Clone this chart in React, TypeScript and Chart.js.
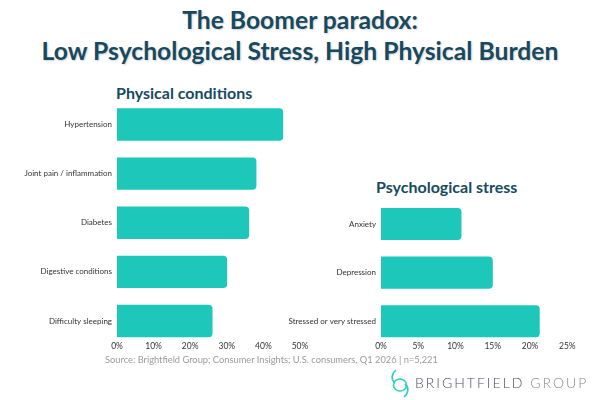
import React, { useEffect, useRef } from "react";
import { Chart, registerables } from "chart.js";

Chart.register(...registerables);

const physicalLabels = [
  "Hypertension",
  "Joint pain / inflammation",
  "Diabetes",
  "Digestive conditions",
  "Difficulty sleeping",
];
const physicalValues = [45.4, 38.1, 36.1, 30.1, 26.1];
const physicalTicks = [0, 10, 20, 30, 40, 50];

const stressLabels = ["Anxiety", "Depression", "Stressed or very stressed"];
const stressValues = [10.8, 15.0, 21.3];
const stressTicks = [0, 5, 10, 15, 20, 25];

const BAR = "#1dc7b9";
const FONT = "Lato, 'Open Sans', sans-serif";

const liftXLabels = {
  id: "liftXLabels",
  afterLayout(chart: any) {
    const s = chart.scales.x;
    s.top -= 4;
    s.bottom -= 4;
  },
};

function makeConfig(
  labels: string[],
  values: number[],
  max: number,
  step: number,
  yWidth: number,
  pad: { top: number; right: number }
): any {
  return {
    type: "bar",
    data: {
      labels,
      datasets: [
        {
          data: values,
          backgroundColor: BAR,
          borderRadius: 4,
          borderSkipped: "start",
          barPercentage: 0.66,
          categoryPercentage: 1,
        },
      ],
    },
    plugins: [liftXLabels],
    options: {
      indexAxis: "y",
      animation: false,
      responsive: false,
      maintainAspectRatio: false,
      layout: { padding: { top: pad.top, right: pad.right, bottom: 0, left: 0 } },
      plugins: { legend: { display: false }, tooltip: { enabled: false }, title: { display: false } },
      scales: {
        x: {
          min: 0,
          max,
          grid: { display: false, drawTicks: false },
          border: { display: false },
          ticks: {
            stepSize: step,
            padding: 0,
            color: "#333",
            font: { family: FONT, size: 8.5 },
            callback: (v: any) => v + "%",
          },
          afterFit: (s: any) => {
            s.height = 14.5;
          },
        },
        y: {
          grid: { display: false, drawTicks: false },
          border: { display: false },
          ticks: { padding: 5, color: "#333", font: { family: FONT, size: 8 } },
          afterFit: (s: any) => {
            s.width = yWidth;
          },
        },
      },
    },
  };
}

export default function App() {
  const leftRef = useRef<HTMLCanvasElement>(null);
  const rightRef = useRef<HTMLCanvasElement>(null);

  useEffect(() => {
    document.body.style.margin = "0";
    const c1 = new Chart(
      leftRef.current!,
      makeConfig(physicalLabels, physicalValues, physicalTicks[physicalTicks.length - 1], physicalTicks[1], 117, {
        top: 10,
        right: 10,
      })
    );
    const c2 = new Chart(
      rightRef.current!,
      makeConfig(stressLabels, stressValues, stressTicks[stressTicks.length - 1], stressTicks[1], 131, {
        top: 8.5,
        right: 32.7,
      })
    );
    return () => {
      c1.destroy();
      c2.destroy();
    };
  }, []);

  const titleStyle: React.CSSProperties = {
    position: "absolute",
    left: 0,
    width: 600,
    textAlign: "center",
    fontFamily: FONT,
    fontWeight: 700,
    fontSize: 24.7,
    color: "#174a5e",
    lineHeight: "30px",
    textShadow: "1px 1px 2px rgba(0,0,0,0.18)",
    whiteSpace: "nowrap",
  };
  const subStyle: React.CSSProperties = {
    position: "absolute",
    fontFamily: FONT,
    fontWeight: 700,
    fontSize: 16,
    color: "#174a5e",
    lineHeight: "20px",
    whiteSpace: "nowrap",
  };

  return (
    <div style={{ position: "absolute", left: 0, top: 0, width: 600, height: 400, background: "#fff", overflow: "hidden" }}>
      <div style={{ ...titleStyle, top: 5 }}>The Boomer paradox:</div>
      <div style={{ ...titleStyle, top: 36 }}>Low Psychological Stress, High Physical Burden</div>
      <div style={{ ...subStyle, left: 116, top: 83 }}>Physical conditions</div>
      <div style={{ ...subStyle, left: 376, top: 177 }}>Psychological stress</div>
      <canvas
        ref={leftRef}
        width={310}
        height={270}
        style={{ position: "absolute", left: 0, top: 90, width: 310, height: 270 }}
      />
      <canvas
        ref={rightRef}
        width={350}
        height={170}
        style={{ position: "absolute", left: 250, top: 190, width: 350, height: 170 }}
      />
      <div
        style={{
          position: "absolute",
          left: 105,
          top: 354,
          fontFamily: FONT,
          fontSize: 9.3,
          color: "#9a9a9a",
          lineHeight: "12px",
          whiteSpace: "nowrap",
        }}
      >
        Source: Brightfield Group; Consumer Insights; U.S. consumers, Q1 2026 | n=5,221
      </div>
      <svg style={{ position: "absolute", left: 390, top: 368 }} width={20} height={31} viewBox="0 0 20 31">
        <path d="M6 2 C1 6 1 12 5 15" fill="none" stroke="#2fd0c0" strokeWidth={1.6} />
        <ellipse cx={10} cy={17} rx={6.5} ry={6} fill="none" stroke="#2fd0c0" strokeWidth={1.6} />
        <path d="M14 29 C19 25 19 19 15 16" fill="none" stroke="#2fd0c0" strokeWidth={1.6} />
      </svg>
      <div
        style={{
          position: "absolute",
          left: 415,
          top: 374,
          fontFamily: FONT,
          fontWeight: 300,
          fontSize: 14,
          letterSpacing: 2,
          lineHeight: "18px",
          whiteSpace: "nowrap",
        }}
      >
        <span style={{ color: "#4e4c66" }}>BRIGHTFIELD</span>
        <span style={{ color: "#8a8898" }}> GROUP</span>
      </div>
    </div>
  );
}
